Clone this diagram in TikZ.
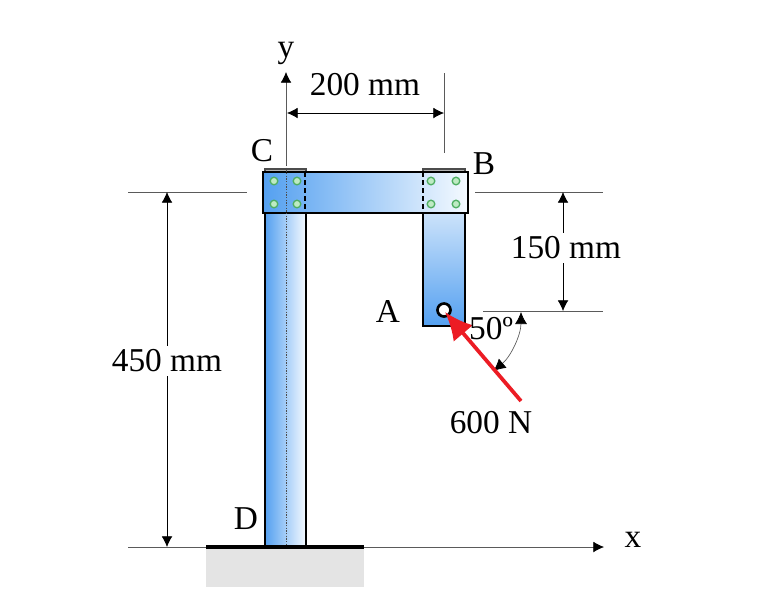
\documentclass[tikz,border=0pt]{standalone}
\usepackage{fontspec}
\setmainfont{Liberation Serif}
\usepackage{tikz}
\usetikzlibrary{arrows.meta}
\definecolor{steelblue}{RGB}{84,160,240}
\definecolor{paleblue}{RGB}{245,250,255}
\definecolor{boltgreen}{RGB}{80,175,100}
\definecolor{boltfill}{RGB}{190,235,195}
\definecolor{forcered}{RGB}{236,28,36}
\definecolor{groundgray}{RGB}{228,228,228}
\definecolor{linegray}{RGB}{90,90,90}
\tikzset{
  lbl/.style={inner sep=0pt,font=\fontsize{25}{28}\selectfont},
  dimline/.style={draw=black,line width=0.5pt,{Latex[length=8pt,width=8pt]}-{Latex[length=8pt,width=8pt]}},
  extline/.style={draw=linegray,line width=0.5pt},
  plate/.style={draw=black,line width=2.1pt},
  bolt/.style={draw=boltgreen,fill=boltfill,line width=1pt}
}
\begin{document}
\begin{tikzpicture}[x=0.75pt,y=-0.75pt]
  \useasboundingbox (0,0) rectangle (764,612);
  \fill[white] (0,0) rectangle (764,612);

  % Base
  \fill[groundgray] (206,547) rectangle (364,587);

  % Ejes
  \coordinate (axisX0) at (128,547);
  \coordinate (axisXend) at (604,547);
  \coordinate (axisYtop) at (286,72);
  \coordinate (axisYlow) at (286,165);
  \draw[extline,-{Latex[length=8pt,width=8pt,black]}] (axisX0) -- (axisXend);
  \draw[extline,-{Latex[length=8pt,width=8pt,black]}] (axisYlow) -- (axisYtop);

  % Columna CD
  \draw[plate,left color=steelblue,right color=paleblue] (265,213) rectangle (306,547);
  % Barra AB
  \draw[plate,top color=steelblue!30!white,bottom color=steelblue] (423,213) rectangle (465,326);
  % Tapas superiores
  \draw[line width=1.5pt,draw=black!70,fill=gray!60] (265,172) -- (265,169) -- (306,169) -- (306,172);
  \draw[line width=1.5pt,draw=black!70,fill=gray!60] (423,172) -- (423,169) -- (465,169) -- (465,172);
  % Viga CB
  \draw[plate,left color=steelblue,right color=paleblue] (263,172) rectangle (468,213);
  \draw[line width=2pt,dash pattern=on 3.5pt off 2.5pt] (305,172) -- (305,213);
  \draw[line width=2pt,dash pattern=on 3.5pt off 2.5pt] (423,172) -- (423,213);

  % Pernos
  \foreach \bx in {274,297,431,456}
    \foreach \by in {181,204}
      \draw[bolt] (\bx,\by) circle (3.8);

  % Linea central y suelo
  \draw[line width=0.4pt,draw=black!70,dash pattern=on 1pt off 1pt] (286,165) -- (286,547);
  \draw[line width=2.4pt] (206,547) -- (364,547);

  % Agujero A
  \draw[line width=2pt,fill=white] (444,310) circle (6.5);

  % Cota 200 mm
  \coordinate (dimCx) at (287,113);
  \coordinate (dimBx) at (444,113);
  \coordinate (extBtop) at (444,73);
  \coordinate (extBlow) at (444,153);
  \draw[extline] (extBtop) -- (extBlow);
  \draw[dimline] (dimCx) -- (dimBx);
  \node[lbl] (lbl200) at (365,85) {200 mm};

  % Cota 450 mm
  \coordinate (extCl) at (128,192);
  \coordinate (extCr) at (247,192);
  \coordinate (dimCy) at (167,192);
  \coordinate (dimDy) at (167,547);
  \draw[extline] (extCl) -- (extCr);
  \draw[dimline] (dimCy) -- (dimDy);
  \node[lbl,fill=white,inner ysep=3pt] (lbl450) at (167,361) {450 mm};

  % Cota 150 mm
  \coordinate (extBl) at (475,192);
  \coordinate (extBr) at (603,192);
  \coordinate (extAl) at (483,311);
  \coordinate (extAr) at (603,311);
  \coordinate (dimBy) at (563,192);
  \coordinate (dimAy) at (563,311);
  \draw[extline] (extBl) -- (extBr);
  \draw[extline] (extAl) -- (extAr);
  \draw[dimline] (dimBy) -- (dimAy);
  \node[lbl,fill=white,inner ysep=3pt] (lbl150) at (566,248) {150 mm};

  % Angulo
  \draw[draw=linegray,line width=0.5pt,{Latex[length=9pt,width=9pt,black]}-{Latex[length=9pt,width=9pt,black]}]
    (521,312) arc (0:50:77);

  % Fuerza
  \coordinate (forceTail) at (521,401);
  \coordinate (forceHead) at (445,312);
  \draw[forcered,line width=2.8pt,-{Latex[length=21pt,width=19pt]}] (forceTail) -- (forceHead);

  % Etiquetas
  \node[lbl] (lblY) at (286,53) {y};
  \node[lbl] (lblX) at (633,540) {x};
  \node[lbl] (lblC) at (262,151) {C};
  \node[lbl] (lblB) at (484,164) {B};
  \node[lbl] (lblA) at (388,311) {A};
  \node[lbl] (lblD) at (246,519) {D};
  \node[lbl] (lblAng) at (491,329) {50º};
  \node[lbl] (lblF) at (491,423) {600 N};
\end{tikzpicture}
\end{document}
